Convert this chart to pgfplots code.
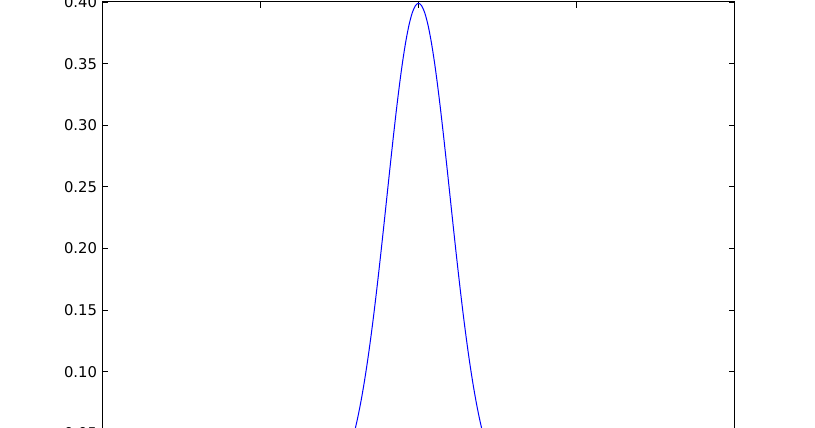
\documentclass[border=0pt]{standalone}
\usepackage{fontspec}
\setmainfont{DejaVu Sans}
\usepackage{pgfplots}
\pgfplotsset{compat=1.18}

% standard normal density, sampled by hand
\pgfplotstableread{
x y
-10 0.0000000
-6 0.0000000
-5 0.0000015
-4.5 0.0000160
-4 0.0001338
-3.5 0.0008727
-3.0 0.0044318
-2.9 0.0059525
-2.8 0.0079155
-2.7 0.0104209
-2.6 0.0135830
-2.5 0.0175283
-2.4 0.0223945
-2.3 0.0283270
-2.2 0.0354746
-2.1 0.0439836
-2.0 0.0539910
-1.9 0.0656158
-1.8 0.0789502
-1.7 0.0940491
-1.6 0.1109208
-1.5 0.1295176
-1.4 0.1497275
-1.3 0.1713686
-1.2 0.1941861
-1.1 0.2178522
-1.0 0.2419707
-0.9 0.2660852
-0.8 0.2896916
-0.7 0.3122539
-0.6 0.3332246
-0.5 0.3520653
-0.4 0.3682701
-0.3 0.3813878
-0.2 0.3910427
-0.1 0.3969525
0.0 0.3989423
0.1 0.3969525
0.2 0.3910427
0.3 0.3813878
0.4 0.3682701
0.5 0.3520653
0.6 0.3332246
0.7 0.3122539
0.8 0.2896916
0.9 0.2660852
1.0 0.2419707
1.1 0.2178522
1.2 0.1941861
1.3 0.1713686
1.4 0.1497275
1.5 0.1295176
1.6 0.1109208
1.7 0.0940491
1.8 0.0789502
1.9 0.0656158
2.0 0.0539910
2.1 0.0439836
2.2 0.0354746
2.3 0.0283270
2.4 0.0223945
2.5 0.0175283
2.6 0.0135830
2.7 0.0104209
2.8 0.0079155
2.9 0.0059525
3.0 0.0044318
3.5 0.0008727
4 0.0001338
4.5 0.0000160
5 0.0000015
6 0.0000000
10 0.0000000
}\pdf

\begin{document}
\begin{tikzpicture}
  % the reference only shows the top part of the figure
  \useasboundingbox (0pt,0pt) rectangle (815pt,-428pt);
  \clip (0pt,0pt) rectangle (815pt,-428pt);
  \begin{axis}[
      at={(102.5pt,-2pt)},
      anchor=north west,
      scale only axis,
      width=632pt,
      height=493pt,
      xmin=-10, xmax=10,
      ymin=0, ymax=0.4,
      xtick={-10,-5,0,5,10},
      ytick={0,0.05,...,0.40},
      yticklabel style={/pgf/number format/.cd,fixed,fixed zerofill,precision=2},
      /pgf/number format/assume math mode=true,
      tick align=inside,
      major tick length=5.7pt,
      tick style={black, line width=0.8pt},
      axis line style={black, line width=1pt},
      ticklabel style={font=\fontsize{14.8}{18}\selectfont},
      yticklabel shift=2pt,
    ]
    \addplot[blue, line width=1pt, no marks, smooth] table[x=x, y=y] {\pdf};
  \end{axis}
\end{tikzpicture}
\end{document}
